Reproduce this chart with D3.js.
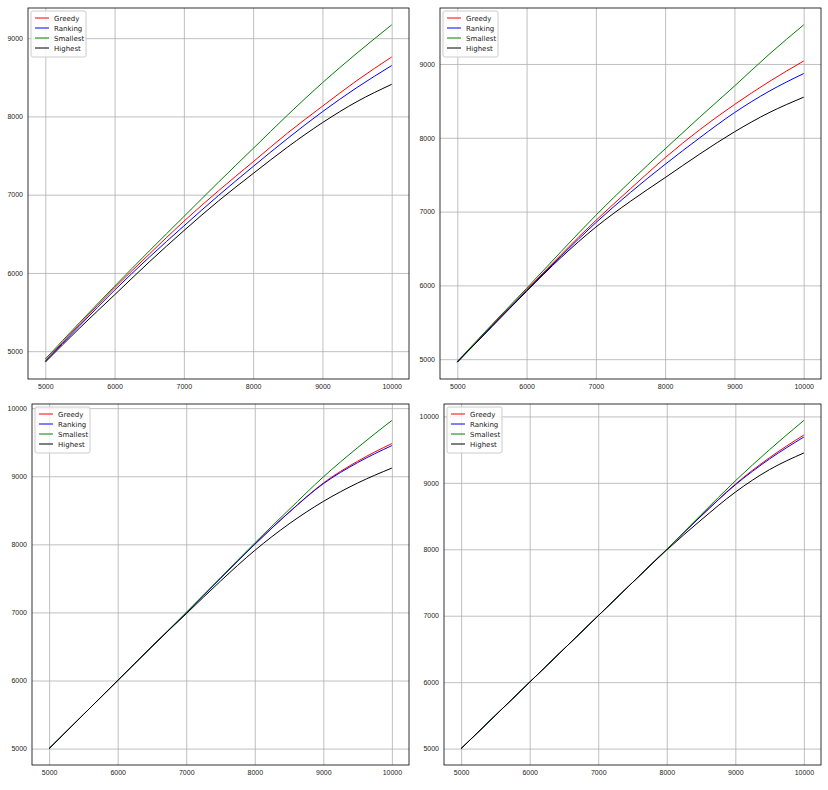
<!DOCTYPE html>
<html><head><meta charset="utf-8">
<script src="https://cdn.jsdelivr.net/npm/d3@7"></script>
<style>body{margin:0;background:#fff}svg{font-family:"DejaVu Sans",sans-serif}</style>
</head><body><svg id="c" width="828" height="790"></svg>
<script>
const xValues = [5000,5500,6000,6500,7000,7500,8000,8500,9000,9500,10000];
const seriesNames = ["Greedy","Ranking","Smallest","Highest"];
const seriesColors = ["#ff0000","#0000ff","#008000","#000000"];
// panel 1 (top-left)
const p1Greedy   = [4880,5350,5810,6240,6660,7050,7420,7790,8130,8460,8760];
const p1Ranking  = [4870,5330,5780,6200,6600,6990,7360,7720,8060,8370,8650];
const p1Smallest = [4900,5370,5830,6280,6720,7160,7590,8020,8430,8810,9170];
const p1Highest  = [4860,5300,5720,6140,6540,6920,7270,7610,7920,8190,8410];
// panel 2 (top-right)
const p2Greedy   = [4960,5460,5940,6420,6880,7310,7730,8110,8450,8760,9040];
const p2Ranking  = [4960,5450,5930,6400,6850,7260,7640,8000,8340,8630,8870];
const p2Smallest = [4970,5470,5960,6460,6950,7410,7850,8280,8700,9130,9530];
const p2Highest  = [4960,5440,5920,6380,6790,7140,7460,7780,8080,8340,8550];
// panel 3 (bottom-left)
const p3Greedy   = [5000,5500,6000,6500,6990,7500,8000,8470,8900,9220,9480];
const p3Ranking  = [5000,5500,6000,6500,6990,7500,8000,8470,8890,9200,9450];
const p3Smallest = [5000,5500,6000,6500,7000,7510,8020,8510,8990,9420,9820];
const p3Highest  = [5000,5500,6000,6500,6980,7460,7910,8300,8630,8900,9120];
// panel 4 (bottom-right)
const p4Greedy   = [5000,5500,6000,6500,7000,7500,8000,8500,8980,9380,9720];
const p4Ranking  = [5000,5500,6000,6500,7000,7500,8000,8500,8970,9360,9690];
const p4Smallest = [5000,5500,6000,6500,7000,7500,8000,8520,9030,9500,9940];
const p4Highest  = [5000,5500,6000,6500,7000,7500,7990,8440,8860,9200,9450];
const xTicks = [5000,6000,7000,8000,9000,10000];

const panels = [
  {x0:28,x1:409,y0:8,y1:379,data:[p1Greedy,p1Ranking,p1Smallest,p1Highest]},
  {x0:440,x1:821,y0:8,y1:379,data:[p2Greedy,p2Ranking,p2Smallest,p2Highest]},
  {x0:32,x1:409,y0:404,y1:765,data:[p3Greedy,p3Ranking,p3Smallest,p3Highest]},
  {x0:444,x1:821,y0:404,y1:765,data:[p4Greedy,p4Ranking,p4Smallest,p4Highest]}
];
const svg = d3.select("#c");
const fmt = d3.format("d");
panels.forEach(p=>{
  const all = p.data.flat();
  const lo = d3.min(all), hi = d3.max(all), m=(hi-lo)*0.05;
  const x = d3.scaleLinear().domain([4750,10250]).range([p.x0,p.x1]);
  const y = d3.scaleLinear().domain([lo-m,hi+m]).range([p.y1,p.y0]);
  const yTicks = d3.range(Math.ceil((lo-m)/1000)*1000, hi+m, 1000);
  const g = svg.append("g");
  const style = a=>{a.select(".domain").remove();a.selectAll("line").attr("stroke","#b0b0b0").attr("stroke-width",0.8);a.selectAll("text").attr("font-size",7).attr("fill","#222");};
  g.append("g").attr("transform",`translate(0,${p.y1})`).attr("color","#000")
    .call(d3.axisBottom(x).tickValues(xTicks).tickFormat(fmt).tickSize(-(p.y1-p.y0)).tickSizeOuter(0).tickPadding(5))
    .call(style);
  g.append("g").attr("transform",`translate(${p.x0},0)`).attr("color","#000")
    .call(d3.axisLeft(y).tickValues(yTicks).tickFormat(fmt).tickSize(-(p.x1-p.x0)).tickSizeOuter(0).tickPadding(5))
    .call(style);
  const line = d3.line().curve(d3.curveMonotoneX).x((d,i)=>x(xValues[i])).y(d=>y(d));
  p.data.forEach((s,i)=>g.append("path").datum(s).attr("d",line).attr("fill","none").attr("stroke",seriesColors[i]).attr("stroke-width",1));
  g.append("rect").attr("x",p.x0).attr("y",p.y0).attr("width",p.x1-p.x0).attr("height",p.y1-p.y0).attr("fill","none").attr("stroke","#000").attr("stroke-width",0.8);
  const lg = g.append("g").attr("transform",`translate(${p.x0+3},${p.y0+3})`);
  lg.append("rect").attr("width",55).attr("height",46).attr("fill","#fff").attr("fill-opacity",0.8).attr("stroke","#ccc").attr("rx",2);
  seriesNames.forEach((n,i)=>{
    lg.append("line").attr("x1",4).attr("x2",18).attr("y1",7+i*10).attr("y2",7+i*10).attr("stroke",seriesColors[i]).attr("stroke-width",1);
    lg.append("text").attr("x",23).attr("y",9.5+i*10).attr("font-size",7).attr("fill","#222").text(n);
  });
});
</script></body></html>
